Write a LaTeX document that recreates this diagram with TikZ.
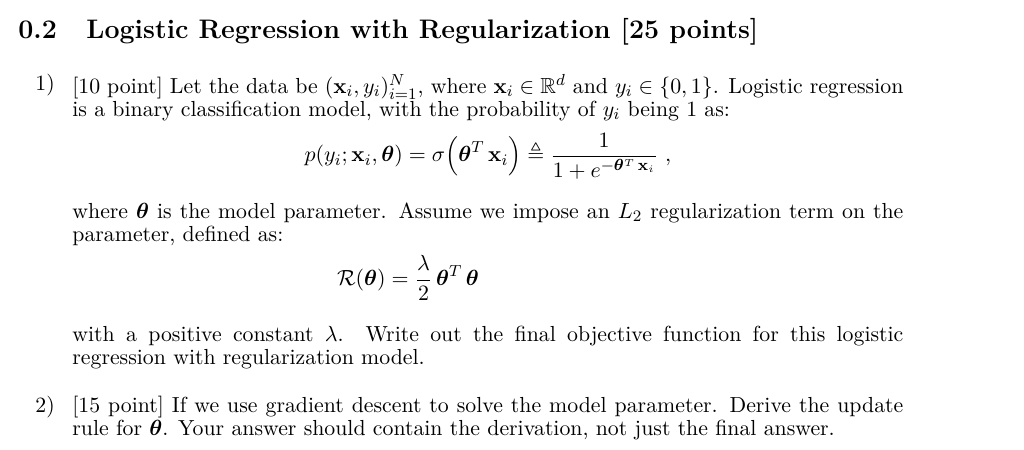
\documentclass[tikz,border=0pt]{standalone}
\usepackage{amsmath,amssymb,bm}
\begin{document}
\begin{tikzpicture}[x=1pt,y=1pt,
  para/.style={anchor=north west,inner sep=0pt,text width=415.5pt,align=justify,font=\fontsize{10.9}{11.6}\selectfont},
  num/.style={anchor=north west,inner sep=0pt,font=\fontsize{10.9}{11.6}\selectfont}]
\useasboundingbox (0,0) rectangle (512,-225);
\node[anchor=base west,inner sep=0pt,font=\fontsize{13.4}{16}\selectfont\bfseries] (title) at (9,-19) {0.2\hspace{1.1em}Logistic Regression with Regularization [25 points]};
\node[num] (n1) at (17.5,-37) {1)};
\node[para] (p1) at (36,-37) {[10 point] Let the data be $(\mathbf{x}_i,y_i)_{i=1}^N$, where $\mathbf{x}_i\in\mathbb{R}^d$ and $y_i\in\{0,1\}$. Logistic regression\linebreak is a binary classification model, with the probability of $y_i$ being 1 as:};
\node[inner sep=0pt,font=\fontsize{10.9}{11.6}\selectfont] (eq1) at (244,-78) {$\displaystyle p(y_i;\mathbf{x}_i,\bm{\theta})=\sigma\Bigl(\bm{\theta}^T\,\mathbf{x}_i\Bigr)\triangleq\frac{1}{1+e^{-\bm{\theta}^T\,\mathbf{x}_i}}\ ,$};
\node[para] (p2) at (36,-101) {where $\bm{\theta}$ is the model parameter. Assume we impose an $L_2$ regularization term on the\linebreak parameter, defined as:};
\node[inner sep=0pt,font=\fontsize{10.9}{11.6}\selectfont] (eq2) at (204,-139) {$\displaystyle \mathcal{R}(\bm{\theta})=\frac{\lambda}{2}\,\bm{\theta}^T\,\bm{\theta}$};
\node[para] (p3) at (36,-163) {with a positive constant $\lambda$. Write out the final objective function for this logistic\linebreak regression with regularization model.};
\node[num] (n2) at (17.5,-198) {2)};
\node[para] (p4) at (36,-198) {[15 point] If we use gradient descent to solve the model parameter. Derive the update\linebreak rule for $\bm{\theta}$. Your answer should contain the derivation, not just the final answer.};
\end{tikzpicture}
\end{document}
